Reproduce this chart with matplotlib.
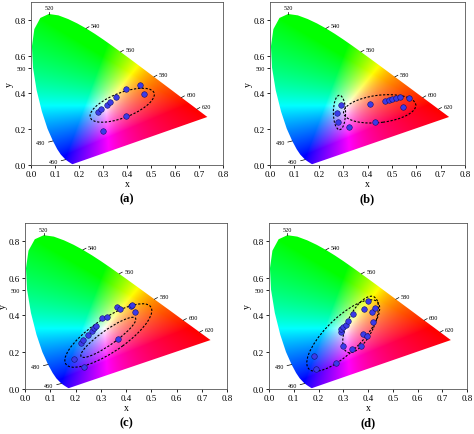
import numpy as np
import matplotlib
matplotlib.use("Agg")
import matplotlib.pyplot as plt
from matplotlib.patches import Polygon, Ellipse

plt.rcParams['font.family'] = ['Liberation Serif', 'DejaVu Serif']

# CIE 1931 spectral locus (wavelength nm, x, y)
locus_nm = [380,420,440,450,460,470,475,480,485,490,495,500,505,510,515,520,525,530,535,540,545,550,555,560,565,570,575,580,585,590,595,600,605,610,620,630,640,700]
locus_x = [0.1741,0.1714,0.1644,0.1566,0.1440,0.1241,0.1096,0.0913,0.0687,0.0454,0.0235,0.0082,0.0039,0.0139,0.0389,0.0743,0.1142,0.1547,0.1929,0.2296,0.2658,0.3016,0.3373,0.3731,0.4087,0.4441,0.4788,0.5125,0.5448,0.5752,0.6029,0.6270,0.6482,0.6658,0.6915,0.7079,0.7190,0.7347]
locus_y = [0.0050,0.0051,0.0109,0.0177,0.0297,0.0578,0.0868,0.1327,0.2007,0.2950,0.4127,0.5384,0.6548,0.7502,0.8120,0.8338,0.8262,0.8059,0.7816,0.7543,0.7243,0.6923,0.6589,0.6245,0.5896,0.5547,0.5202,0.4866,0.4544,0.4242,0.3965,0.3725,0.3514,0.3340,0.3083,0.2920,0.2809,0.2653]
label_nm = [460, 480, 520, 540, 560, 580, 600, 620]

# CIE points per panel
a_x = [0.30,0.28,0.29,0.315,0.33,0.355,0.395,0.455,0.47,0.395]
a_y = [0.19,0.29,0.31,0.33,0.35,0.375,0.42,0.44,0.39,0.27]
b_x = [0.29,0.275,0.28,0.325,0.41,0.47,0.49,0.50,0.515,0.535,0.57,0.545,0.43]
b_y = [0.33,0.285,0.24,0.21,0.335,0.355,0.36,0.365,0.37,0.375,0.37,0.32,0.24]
c_x = [0.195,0.235,0.22,0.23,0.25,0.265,0.275,0.28,0.305,0.325,0.365,0.375,0.42,0.425,0.435,0.37]
c_y = [0.16,0.12,0.25,0.265,0.295,0.315,0.33,0.34,0.385,0.39,0.445,0.435,0.45,0.455,0.42,0.27]
d_x = [0.18,0.19,0.27,0.29,0.29,0.30,0.31,0.32,0.34,0.385,0.40,0.415,0.43,0.42,0.38,0.395,0.30,0.335,0.37]
d_y = [0.18,0.11,0.14,0.31,0.325,0.335,0.345,0.37,0.405,0.435,0.475,0.415,0.44,0.365,0.30,0.285,0.235,0.215,0.235]
panel_labels = ['(a)', '(b)', '(c)', '(d)']

# dashed loops: (cx, cy, width, height, angle)
loops = [
    [(0.38, 0.33, 0.30, 0.13, 30)],
    [(0.45, 0.31, 0.30, 0.15, 10), (0.285, 0.29, 0.05, 0.19, 0)],
    [(0.33, 0.29, 0.46, 0.16, 45), (0.33, 0.28, 0.30, 0.07, 45)],
    [(0.30, 0.29, 0.46, 0.16, 55), (0.37, 0.35, 0.32, 0.11, 72)],
]

# chromaticity background image
gx = np.linspace(0, 0.8, 400)
gy = np.linspace(0.001, 0.9, 450)
XX, YY = np.meshgrid(gx, gy)
Xc = XX / YY
Zc = (1 - XX - YY) / YY
M = np.array([[3.2406, -1.5372, -0.4986], [-0.9689, 1.8758, 0.0415], [0.0557, -0.2040, 1.0570]])
rgb = np.stack([M[i, 0]*Xc + M[i, 1] + M[i, 2]*Zc for i in range(3)], axis=-1)
rgb = np.clip(rgb, 0, None)
rgb = rgb / np.maximum(rgb.max(axis=-1, keepdims=True), 1e-9)
rgb = np.clip(np.power(rgb, 0.75), 0, 1)

fig = plt.figure(figsize=(4.74, 4.35), dpi=100)
rects = [(31, 3, 223, 166), (270, 3, 465, 166), (25, 224, 227, 390), (269, 224, 467, 390)]
datasets = [(a_x, a_y), (b_x, b_y), (c_x, c_y), (d_x, d_y)]
W, H = 474, 435
for k, (l, t, r, b) in enumerate(rects):
    ax = fig.add_axes([l/W, 1 - b/H, (r-l)/W, (b-t)/H])
    im = ax.imshow(rgb, extent=[0, 0.8, 0.001, 0.9], origin='lower', aspect='auto', zorder=1)
    poly = Polygon(list(zip(locus_x, locus_y)), closed=True, transform=ax.transData, facecolor='none', edgecolor='none')
    ax.add_patch(poly)
    im.set_clip_path(poly)
    for nm in label_nm:
        i = locus_nm.index(nm)
        px, py = locus_x[i], locus_y[i]
        if nm <= 480:
            dx, dy = -0.03, -0.01
        elif nm == 520:
            dx, dy = 0.0, 0.02
        else:
            dx, dy = 0.02, 0.015
        ax.plot([px, px+dx*0.6], [py, py+dy*0.6], color='k', lw=0.5, zorder=3)
        ax.text(px+dx, py+dy, str(nm), fontsize=4.5, ha='right' if nm <= 480 else ('center' if nm == 520 else 'left'),
                va='center' if nm != 520 else 'bottom', zorder=3)
    for (cx, cy, w, h, ang) in loops[k]:
        ax.add_patch(Ellipse((cx, cy), w, h, angle=ang, fill=False, ls=(0, (2, 1.5)), lw=0.8, color='k', zorder=4))
    xs, ys = datasets[k]
    ax.scatter(xs, ys, s=16, c='#3a3ae8', edgecolors='#10106a', linewidths=0.4, zorder=5)
    ax.set_xlim(0, 0.8)
    ax.set_ylim(0, 0.9)
    ax.set_xticks(np.arange(0, 0.81, 0.1))
    ax.set_xticklabels([f'{v:.1f}' for v in np.arange(0, 0.81, 0.1)])
    ax.set_yticks([0.0, 0.2, 0.4, 0.538, 0.6, 0.8])
    ax.set_yticklabels(['0.0', '0.2', '0.4', '500', '0.6', '0.8'])
    ax.tick_params(labelsize=6.5, length=2, width=0.6, pad=1.5)
    for lab in ax.get_yticklabels():
        if lab.get_text() == '500':
            lab.set_fontsize(4.5)
    ax.set_xlabel('x', fontsize=7, labelpad=1)
    ax.set_ylabel('y', fontsize=7, labelpad=1)
    ax.text(0.5, -0.165, panel_labels[k], transform=ax.transAxes, ha='center', va='top', fontsize=9, fontweight='bold')
    for s in ax.spines.values():
        s.set_color('#555555')
        s.set_linewidth(0.6)

fig.savefig('out.png', dpi=100)
